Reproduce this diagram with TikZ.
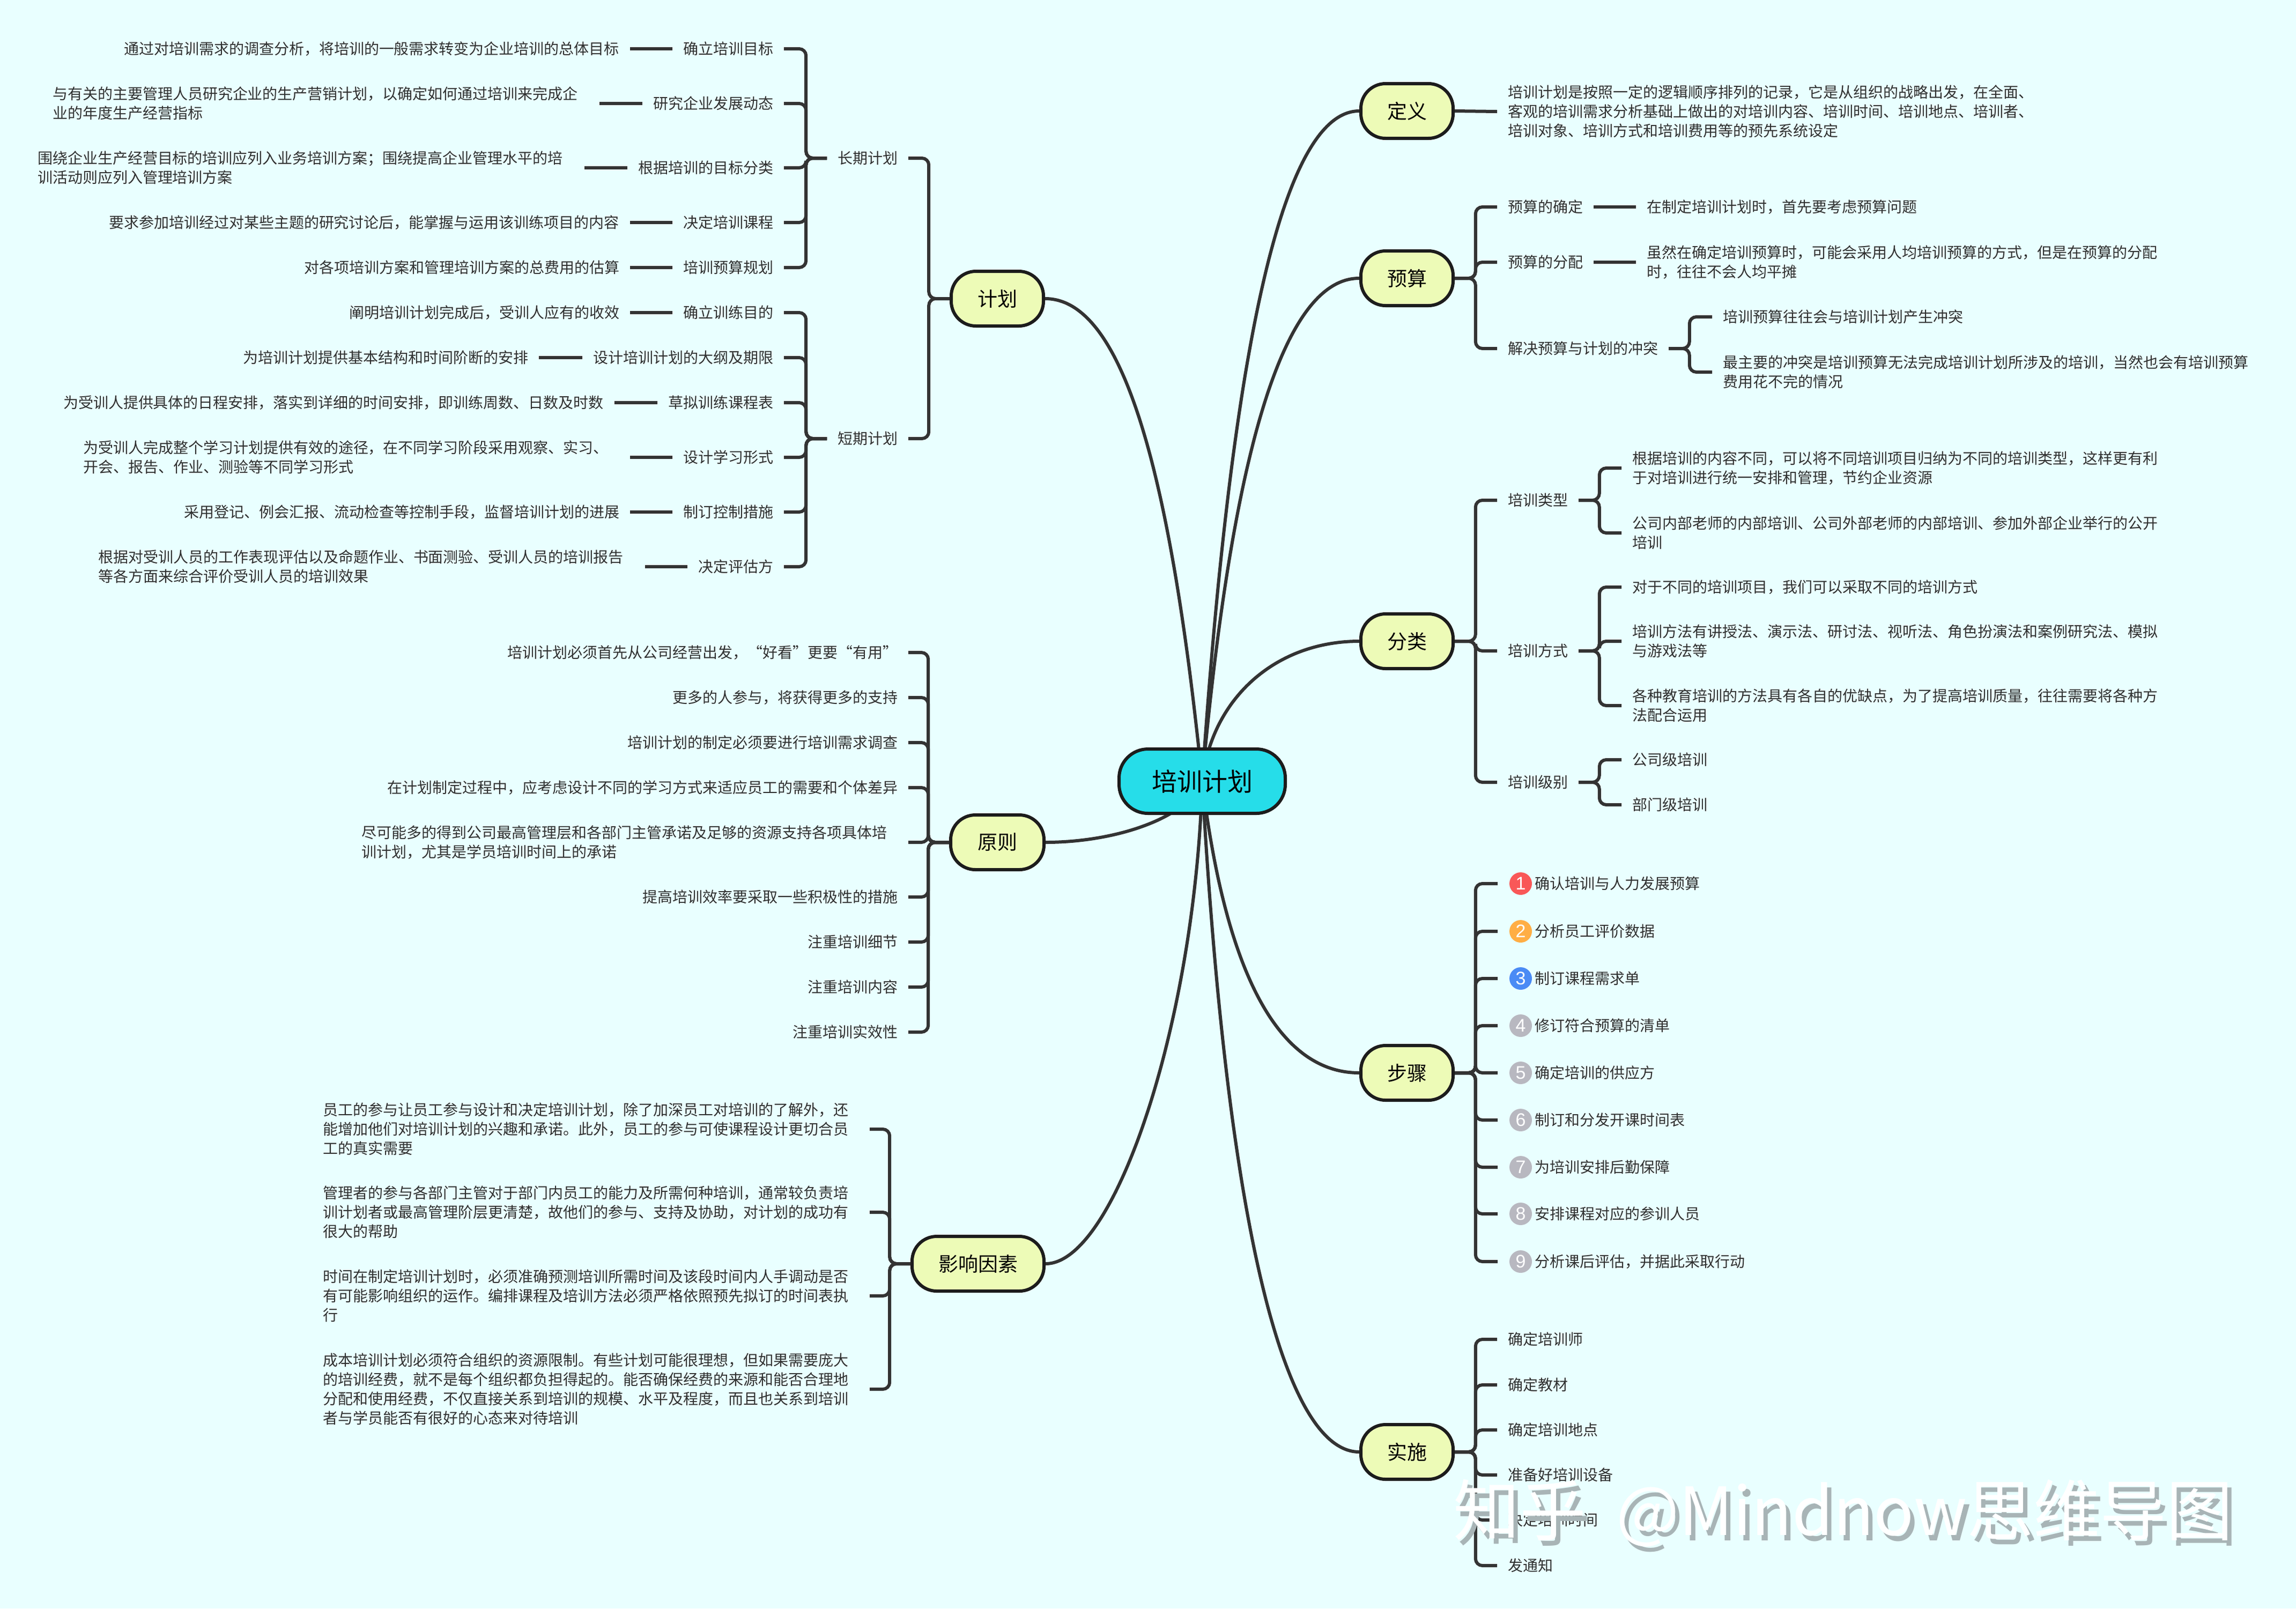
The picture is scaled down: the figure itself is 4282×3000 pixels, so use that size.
\documentclass[tikz,border=0pt]{standalone}
\usepackage{fontspec}
\setmainfont{Noto Sans CJK SC}
\newfontfamily\digitfont{Liberation Sans}
\pgfdeclarelayer{bg}
\pgfsetlayers{bg,main}
\definecolor{pagebg}{HTML}{E9FFFF}
\definecolor{linec}{HTML}{333333}
\definecolor{strokec}{HTML}{1C1C1C}
\definecolor{topicfill}{HTML}{EDFBB7}
\definecolor{rootfill}{HTML}{26DDE9}
\definecolor{textc}{HTML}{303030}
\definecolor{shadowc}{HTML}{A8B4B6}
\definecolor{badgered}{HTML}{F95858}
\definecolor{badgeorange}{HTML}{FFAE45}
\definecolor{badgeblue}{HTML}{4A8BF5}
\definecolor{badgegray}{HTML}{B8B8C0}
\tikzset{
  conn/.style={draw=linec,line width=1.5pt},
  brk/.style={conn,rounded corners=3.2pt},
  curve/.style={draw=linec,line width=1.5pt},
  lbl/.style={inner xsep=5pt,inner ysep=0pt,outer sep=0pt,text=textc,
    font=\fontsize{7}{9}\selectfont,text height=6pt,text depth=1pt},
  para/.style={inner xsep=5pt,inner ysep=0pt,outer sep=0pt,text=textc,
    font=\fontsize{7}{9}\selectfont,align=left,text width=250pt},
  topic/.style={draw=strokec,fill=topicfill,line width=1.5pt,rounded corners=11.5pt,
    minimum height=25.5pt,inner sep=0pt,text=black,font=\fontsize{9.25}{11}\selectfont},
  rootnode/.style={draw=strokec,fill=rootfill,line width=1.5pt,rounded corners=13.5pt,
    minimum width=77.5pt,minimum height=30pt,inner sep=0pt,text=black,font=\fontsize{11.75}{14}\selectfont},
  badge/.style={circle,minimum size=10.5pt,inner sep=0pt,outer sep=5.5pt,text=white,
    font=\digitfont\fontsize{8.5}{9}\selectfont},
  wm/.style={inner sep=0pt,anchor=west,font=\fontsize{31}{36}\selectfont}
}
\newcommand{\rbr}[2]{\draw[brk] (#1.east) -- ++(9.7pt,0) |- (#2.west);}
\newcommand{\lbr}[2]{\draw[brk] (#1.west) -- ++(-9.7pt,0) |- (#2.east);}
\newcommand{\rln}[2]{\draw[conn] (#1.east) -- (#2.west);}
\newcommand{\lln}[2]{\draw[conn] (#1.west) -- (#2.east);}
\begin{document}
\begin{tikzpicture}[x=.25pt,y=-.25pt]
\path[use as bounding box] (0,-1) rectangle (4282,2999);
\begin{pgfonlayer}{bg}
\fill[pagebg] (0,-1) rectangle (4282,2999);
\end{pgfonlayer}

% root and main topics
\node[rootnode] (root) at (2242,1456) {培训计划};
\node[topic,minimum width=43pt] (ding) at (2624,206) {定义};
\node[topic,minimum width=43pt] (yus) at (2624,518) {预算};
\node[topic,minimum width=43pt] (fen) at (2624,1195) {分类};
\node[topic,minimum width=43pt] (bu) at (2624,2000) {步骤};
\node[topic,minimum width=43pt] (shi) at (2624,2707) {实施};
\node[topic,minimum width=43pt] (ji) at (1860,556) {计划};
\node[topic,minimum width=43.5pt] (yuan) at (1860,1570) {原则};
\node[topic,minimum width=61.5pt] (ying) at (1824,2356) {影响因素};

\begin{pgfonlayer}{bg}
\draw[curve] (root.center) .. controls (2300,600) and (2400,206) .. (ding.west);
\draw[curve] (root.center) .. controls (2300,814) and (2400,518) .. (yus.west);
\draw[curve] (root.center) .. controls (2260,1300) and (2380,1195) .. (fen.west);
\draw[curve] (root.center) .. controls (2290,1850) and (2400,2000) .. (bu.west);
\draw[curve] (root.center) .. controls (2290,2313) and (2400,2707) .. (shi.west);
\draw[curve] (root.center) .. controls (2180,839) and (2085,556) .. (ji.east);
\draw[curve] (root.center) .. controls (2215,1525) and (2080,1570) .. (yuan.east);
\draw[curve] (root.center) .. controls (2230,1900) and (2080,2356) .. (ying.east);
\end{pgfonlayer}

% 定义
\node[para,anchor=west] (d1) at (2792,207) {培训计划是按照一定的逻辑顺序排列的记录，它是从组织的战略出发，在全面、\\客观的培训需求分析基础上做出的对培训内容、培训时间、培训地点、培训者、\\培训对象、培训方式和培训费用等的预先系统设定};
\rln{ding}{d1}

% 预算
\node[lbl,anchor=west] (y1) at (2792,385) {预算的确定};
\node[lbl,anchor=west] (y2) at (2792,488) {预算的分配};
\node[lbl,anchor=west] (y3) at (2792,649) {解决预算与计划的冲突};
\node[lbl,anchor=west] (y1a) at (3051,385) {在制定培训计划时，首先要考虑预算问题};
\node[para,anchor=west] (y2a) at (3051,488) {虽然在确定培训预算时，可能会采用人均培训预算的方式，但是在预算的分配\\时，往往不会人均平摊};
\node[lbl,anchor=west] (y3a) at (3193,590) {培训预算往往会与培训计划产生冲突};
\node[para,anchor=west] (y3b) at (3193,693) {最主要的冲突是培训预算无法完成培训计划所涉及的培训，当然也会有培训预算\\费用花不完的情况};
\rbr{yus}{y1}\rbr{yus}{y2}\rbr{yus}{y3}
\rln{y1}{y1a}\rln{y2}{y2a}
\rbr{y3}{y3a}\rbr{y3}{y3b}

% 分类
\node[lbl,anchor=west] (f1) at (2792,932) {培训类型};
\node[lbl,anchor=west] (f2) at (2792,1213) {培训方式};
\node[lbl,anchor=west] (f3) at (2792,1458) {培训级别};
\node[para,anchor=west] (f1a) at (3024,872) {根据培训的内容不同，可以将不同培训项目归纳为不同的培训类型，这样更有利\\于对培训进行统一安排和管理，节约企业资源};
\node[para,anchor=west] (f1b) at (3024,993) {公司内部老师的内部培训、公司外部老师的内部培训、参加外部企业举行的公开\\培训};
\node[lbl,anchor=west] (f2a) at (3024,1094) {对于不同的培训项目，我们可以采取不同的培训方式};
\node[para,anchor=west] (f2b) at (3024,1195) {培训方法有讲授法、演示法、研讨法、视听法、角色扮演法和案例研究法、模拟\\与游戏法等};
\node[para,anchor=west] (f2c) at (3024,1315) {各种教育培训的方法具有各自的优缺点，为了提高培训质量，往往需要将各种方\\法配合运用};
\node[lbl,anchor=west] (f3a) at (3024,1416) {公司级培训};
\node[lbl,anchor=west] (f3b) at (3024,1500) {部门级培训};
\rbr{fen}{f1}\rbr{fen}{f2}\rbr{fen}{f3}
\rbr{f1}{f1a}\rbr{f1}{f1b}
\rbr{f2}{f2a}\rbr{f2}{f2b}\rbr{f2}{f2c}
\rbr{f3}{f3a}\rbr{f3}{f3b}

% 步骤
\node[badge,fill=badgered] (s1) at (2836,1647) {1};
\node[badge,fill=badgeorange] (s2) at (2836,1736) {2};
\node[badge,fill=badgeblue] (s3) at (2836,1824) {3};
\node[badge,fill=badgegray] (s4) at (2836,1912) {4};
\node[badge,fill=badgegray] (s5) at (2836,2000) {5};
\node[badge,fill=badgegray] (s6) at (2836,2088) {6};
\node[badge,fill=badgegray] (s7) at (2836,2176) {7};
\node[badge,fill=badgegray] (s8) at (2836,2263) {8};
\node[badge,fill=badgegray] (s9) at (2836,2352) {9};
\foreach \i/\t in {1/确认培训与人力发展预算,2/分析员工评价数据,3/制订课程需求单,4/修订符合预算的清单,5/确定培训的供应方,6/制订和分发开课时间表,7/为培训安排后勤保障,8/安排课程对应的参训人员,9/分析课后评估，并据此采取行动}{
  \node[lbl,anchor=west,inner xsep=0pt] (st\i) at (s\i.center) [xshift=6.5pt] {\t};
  \rbr{bu}{s\i}
}

% 实施
\node[lbl,anchor=west] (i1) at (2792,2497) {确定培训师};
\node[lbl,anchor=west] (i2) at (2792,2582) {确定教材};
\node[lbl,anchor=west] (i3) at (2792,2666) {确定培训地点};
\node[lbl,anchor=west] (i4) at (2792,2750) {准备好培训设备};
\node[lbl,anchor=west] (i5) at (2792,2834) {决定培训时间};
\node[lbl,anchor=west] (i6) at (2792,2919) {发通知};
\rbr{shi}{i1}\rbr{shi}{i2}\rbr{shi}{i3}\rbr{shi}{i4}\rbr{shi}{i5}\rbr{shi}{i6}

% 计划
\node[lbl,anchor=east] (lg) at (1694,294) {长期计划};
\node[lbl,anchor=east] (st) at (1694,817) {短期计划};
\lbr{ji}{lg}\lbr{ji}{st}
\node[lbl,anchor=east] (a1) at (1462,90) {确立培训目标};
\node[lbl,anchor=east] (a2) at (1462,192) {研究企业发展动态};
\node[lbl,anchor=east] (a3) at (1462,312) {根据培训的目标分类};
\node[lbl,anchor=east] (a4) at (1462,414) {决定培训课程};
\node[lbl,anchor=east] (a5) at (1462,498) {培训预算规划};
\node[lbl,anchor=east] (b1) at (1462,582) {确立训练目的};
\node[lbl,anchor=east] (b2) at (1462,666) {设计培训计划的大纲及期限};
\node[lbl,anchor=east] (b3) at (1462,750) {草拟训练课程表};
\node[lbl,anchor=east] (b4) at (1462,852) {设计学习形式};
\node[lbl,anchor=east] (b5) at (1462,954) {制订控制措施};
\node[lbl,anchor=east] (b6) at (1462,1056) {决定评估方};
\foreach \n in {a1,a2,a3,a4,a5}{\lbr{lg}{\n}}
\foreach \n in {b1,b2,b3,b4,b5,b6}{\lbr{st}{\n}}
\node[lbl,anchor=east] (a1x) at (1175,90) {通过对培训需求的调查分析，将培训的一般需求转变为企业培训的总体目标};
\node[para,anchor=east] (a2x) at (1118,192) {与有关的主要管理人员研究企业的生产营销计划，以确定如何通过培训来完成企\\业的年度生产经营指标};
\node[para,anchor=east] (a3x) at (1090,312) {围绕企业生产经营目标的培训应列入业务培训方案；围绕提高企业管理水平的培\\训活动则应列入管理培训方案};
\node[lbl,anchor=east] (a4x) at (1175,414) {要求参加培训经过对某些主题的研究讨论后，能掌握与运用该训练项目的内容};
\node[lbl,anchor=east] (a5x) at (1175,498) {对各项培训方案和管理培训方案的总费用的估算};
\node[lbl,anchor=east] (b1x) at (1175,582) {阐明培训计划完成后，受训人应有的收效};
\node[lbl,anchor=east] (b2x) at (1005,666) {为培训计划提供基本结构和时间阶断的安排};
\node[lbl,anchor=east] (b3x) at (1146,750) {为受训人提供具体的日程安排，落实到详细的时间安排，即训练周数、日数及时数};
\node[para,anchor=east] (b4x) at (1175,852) {为受训人完成整个学习计划提供有效的途径，在不同学习阶段采用观察、实习、\\开会、报告、作业、测验等不同学习形式};
\node[lbl,anchor=east] (b5x) at (1175,954) {采用登记、例会汇报、流动检查等控制手段，监督培训计划的进展};
\node[para,anchor=east] (b6x) at (1203,1056) {根据对受训人员的工作表现评估以及命题作业、书面测验、受训人员的培训报告\\等各方面来综合评价受训人员的培训效果};
\foreach \n in {a1,a2,a3,a4,a5,b1,b2,b3,b4,b5,b6}{\lln{\n}{\n x}}

% 原则
\node[lbl,anchor=east] (p1) at (1694,1216) {培训计划必须首先从公司经营出发，“好看”更要“有用”};
\node[lbl,anchor=east] (p2) at (1694,1300) {更多的人参与，将获得更多的支持};
\node[lbl,anchor=east] (p3) at (1694,1384) {培训计划的制定必须要进行培训需求调查};
\node[lbl,anchor=east] (p4) at (1694,1468) {在计划制定过程中，应考虑设计不同的学习方式来适应员工的需要和个体差异};
\node[para,anchor=east] (p5) at (1694,1570) {尽可能多的得到公司最高管理层和各部门主管承诺及足够的资源支持各项具体培\\训计划，尤其是学员培训时间上的承诺};
\node[lbl,anchor=east] (p6) at (1694,1672) {提高培训效率要采取一些积极性的措施};
\node[lbl,anchor=east] (p7) at (1694,1756) {注重培训细节};
\node[lbl,anchor=east] (p8) at (1694,1840) {注重培训内容};
\node[lbl,anchor=east] (p9) at (1694,1924) {注重培训实效性};
\foreach \n in {p1,p2,p3,p4,p5,p6,p7,p8,p9}{\lbr{yuan}{\n}}

% 影响因素
\node[para,anchor=east] (q1) at (1622,2105) {员工的参与让员工参与设计和决定培训计划，除了加深员工对培训的了解外，还\\能增加他们对培训计划的兴趣和承诺。此外，员工的参与可使课程设计更切合员\\工的真实需要};
\node[para,anchor=east] (q2) at (1622,2260) {管理者的参与各部门主管对于部门内员工的能力及所需何种培训，通常较负责培\\训计划者或最高管理阶层更清楚，故他们的参与、支持及协助，对计划的成功有\\很大的帮助};
\node[para,anchor=east] (q3) at (1622,2416) {时间在制定培训计划时，必须准确预测培训所需时间及该段时间内人手调动是否\\有可能影响组织的运作。编排课程及培训方法必须严格依照预先拟订的时间表执\\行};
\node[para,anchor=east] (q4) at (1622,2590) {成本培训计划必须符合组织的资源限制。有些计划可能很理想，但如果需要庞大\\的培训经费，就不是每个组织都负担得起的。能否确保经费的来源和能否合理地\\分配和使用经费，不仅直接关系到培训的规模、水平及程度，而且也关系到培训\\者与学员能否有很好的心态来对待培训};
\foreach \n in {q1,q2,q3,q4}{\lbr{ying}{\n}}

% watermark
\node[wm,text=shadowc] (wmb) at (2718,2831) {知乎\hspace{7pt} @Mindnow思维导图};
\node[wm,text=white] (wmf) at (2710,2821) {知乎\hspace{7pt} @Mindnow思维导图};
\end{tikzpicture}
\end{document}
